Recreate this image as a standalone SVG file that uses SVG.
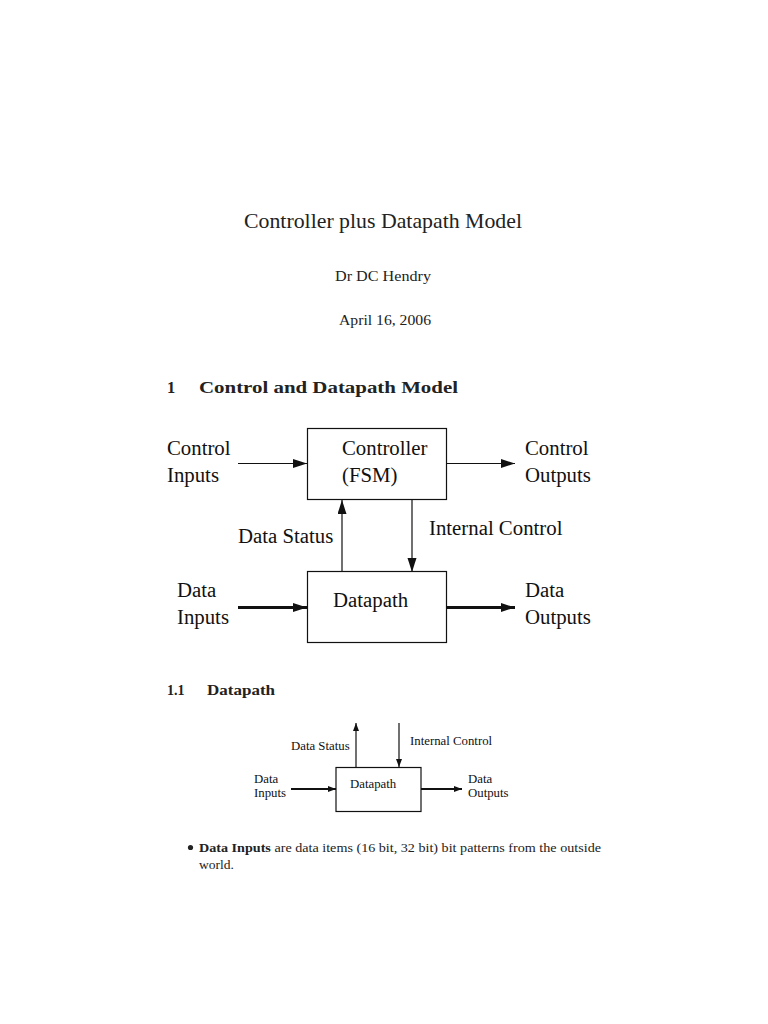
<svg xmlns="http://www.w3.org/2000/svg" width="768" height="1024" viewBox="0 0 768 1024">
<style>
.doc{font-family:"Liberation Serif","DejaVu Serif",serif;fill:#222}
.lbl{font-family:"Liberation Serif","Times New Roman",serif;font-size:20.8px;fill:#111}
.sl{font-family:"Liberation Serif","Times New Roman",serif;font-size:12.8px;fill:#111}
.box{fill:#fff;stroke:#111;stroke-width:1.2}
.ln{stroke:#111;stroke-width:1.2;fill:none}
.thick{stroke:#111;stroke-width:3;fill:none}
.thin2{stroke:#111;stroke-width:2.2;fill:none}
</style>
<defs>
<marker id="ah" markerUnits="userSpaceOnUse" markerWidth="16" markerHeight="10" refX="14" refY="4.5" orient="auto"><path d="M0,0 L14,4.5 L0,9 Z" fill="#111"/></marker>
<marker id="ahs" markerUnits="userSpaceOnUse" markerWidth="10" markerHeight="8" refX="8" refY="3" orient="auto"><path d="M0,0 L8,3 L0,6 Z" fill="#111"/></marker>
</defs>
<rect width="768" height="1024" fill="#fff"/>

<text class="doc" x="383" y="228" font-size="21" text-anchor="middle" textLength="278" lengthAdjust="spacingAndGlyphs">Controller plus Datapath Model</text>
<text class="doc" x="383" y="281" font-size="14.5" text-anchor="middle" textLength="96" lengthAdjust="spacingAndGlyphs">Dr DC Hendry</text>
<text class="doc" x="385" y="325" font-size="14.5" text-anchor="middle" textLength="92" lengthAdjust="spacingAndGlyphs">April 16, 2006</text>
<text class="doc" x="167" y="393" font-size="16.5" font-weight="bold">1</text>
<text class="doc" x="199" y="393" font-size="16.5" font-weight="bold" textLength="259" lengthAdjust="spacingAndGlyphs">Control and Datapath Model</text>

<g id="connectors">
<line class="ln" x1="238" y1="463.5" x2="307" y2="463.5" marker-end="url(#ah)"/>
<line class="ln" x1="446" y1="463.5" x2="515" y2="463.5" marker-end="url(#ah)"/>
<line class="ln" x1="342" y1="572" x2="342" y2="500" marker-end="url(#ah)"/>
<line class="ln" x1="412" y1="500" x2="412" y2="572" marker-end="url(#ah)"/>
<line class="thick" x1="238" y1="607.5" x2="307" y2="607.5" marker-end="url(#ah)"/>
<line class="thick" x1="446" y1="607.5" x2="515" y2="607.5" marker-end="url(#ah)"/>
</g>
<g id="controller">
<rect class="box" x="307.5" y="428.5" width="139" height="71"/>
<text class="lbl" x="342" y="455">Controller</text>
<text class="lbl" x="342" y="482">(FSM)</text>
</g>
<g id="datapath">
<rect class="box" x="307.5" y="571.5" width="139" height="71"/>
<text class="lbl" x="333" y="607">Datapath</text>
</g>
<g id="labels">
<text class="lbl" x="167" y="455">Control</text>
<text class="lbl" x="167" y="482">Inputs</text>
<text class="lbl" x="525" y="455">Control</text>
<text class="lbl" x="525" y="482">Outputs</text>
<text class="lbl" x="238" y="543">Data Status</text>
<text class="lbl" x="429" y="535">Internal Control</text>
<text class="lbl" x="177" y="597">Data</text>
<text class="lbl" x="177" y="624">Inputs</text>
<text class="lbl" x="525" y="597">Data</text>
<text class="lbl" x="525" y="624">Outputs</text>
</g>

<text class="doc" x="167" y="695" font-size="14" font-weight="bold">1.1</text>
<text class="doc" x="207" y="695" font-size="14" font-weight="bold" textLength="68" lengthAdjust="spacingAndGlyphs">Datapath</text>

<g id="connectors-small">
<line class="thin2" x1="291" y1="789" x2="336" y2="789" marker-end="url(#ahs)"/>
<line class="thin2" x1="421" y1="789" x2="462" y2="789" marker-end="url(#ahs)"/>
<line class="ln" x1="356" y1="767" x2="356" y2="723" marker-end="url(#ahs)"/>
<line class="ln" x1="399" y1="723" x2="399" y2="767" marker-end="url(#ahs)"/>
</g>
<g id="datapath-small">
<rect class="box" x="336" y="767.5" width="85" height="44"/>
<text class="sl" x="350" y="788">Datapath</text>
</g>
<g id="labels-small">
<text class="sl" x="291" y="750">Data Status</text>
<text class="sl" x="410" y="745">Internal Control</text>
<text class="sl" x="254" y="783">Data</text>
<text class="sl" x="254" y="797">Inputs</text>
<text class="sl" x="468" y="783">Data</text>
<text class="sl" x="468" y="797">Outputs</text>
</g>

<circle cx="190.5" cy="847.5" r="2.6" fill="#222"/>
<text class="doc" x="199" y="852" font-size="13.5" textLength="402" lengthAdjust="spacingAndGlyphs"><tspan font-weight="bold">Data Inputs</tspan> are data items (16 bit, 32 bit) bit patterns from the outside</text>
<text class="doc" x="199" y="869" font-size="13.5">world.</text>
</svg>
